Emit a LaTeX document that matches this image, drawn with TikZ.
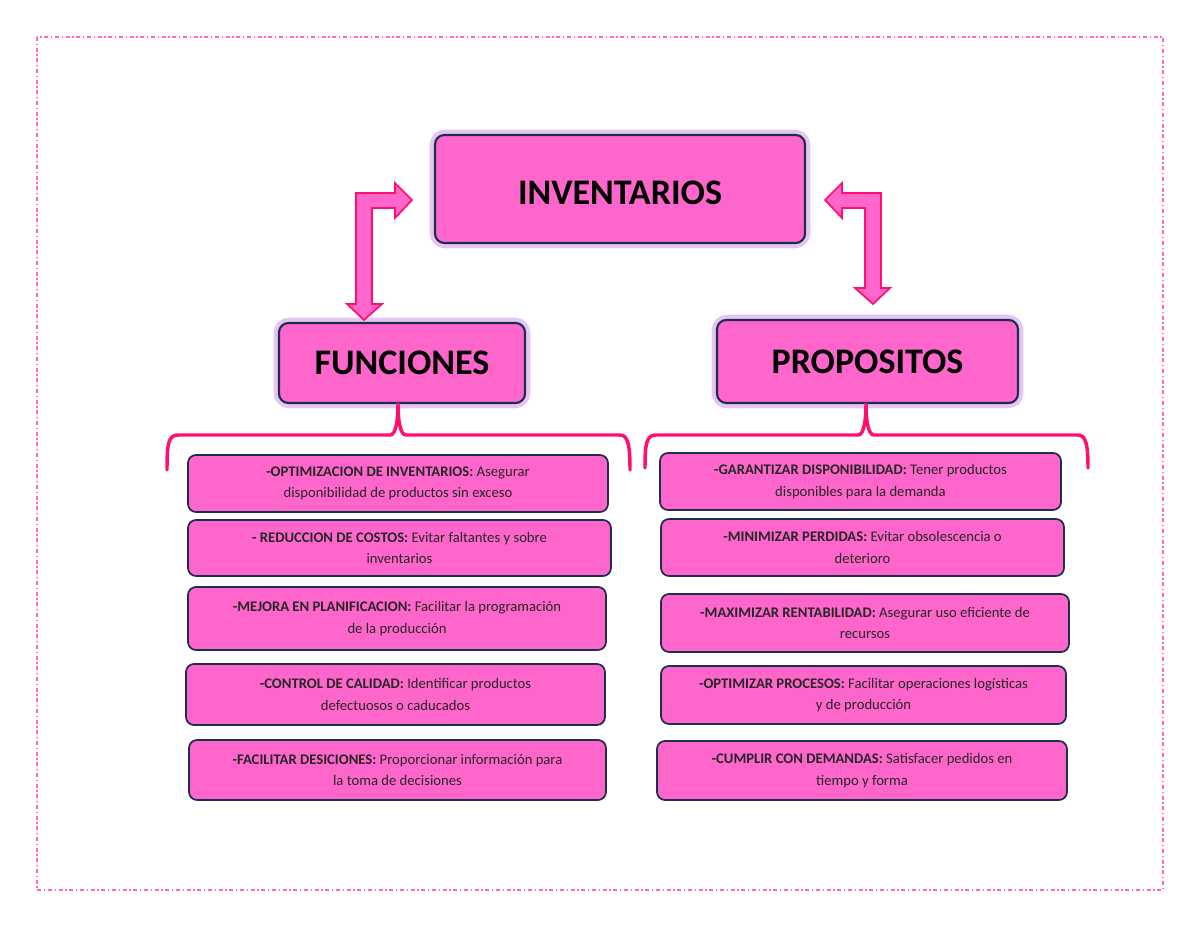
\documentclass[tikz,border=0pt]{standalone}
\usepackage{fontspec}
\setmainfont{Carlito}
\definecolor{pk}{HTML}{FF66CC}
\definecolor{nv}{HTML}{1F2D4F}
\definecolor{ar}{HTML}{FF0F6E}
\definecolor{glow}{HTML}{C080E0}
\begin{document}
\begin{tikzpicture}[x=0.75pt,y=-0.75pt,
 bx/.style={fill=pk,draw=nv,line width=1.6pt,rounded corners=7pt},
 gl/.style={draw=glow,line width=5pt,opacity=0.45,rounded corners=9pt},
 tt/.style={font=\bfseries\fontsize{27}{30}\selectfont},
 sm/.style={font=\fontsize{11}{16}\selectfont,align=center,text=black!85},
 arw/.style={fill=pk,draw=ar,line width=1.3pt,line join=miter},
 br/.style={draw=ar,line width=2.6pt,line cap=round}]
\useasboundingbox (0,0) rectangle (1200,927);
\draw[draw=pk,line width=1pt,dash dot] (37,37) rectangle (1163,890);
% top boxes
\foreach \a/\b/\c/\d/\n in {435/135/805/243/inv,279/323/525/403/fun,717/320/1018/403/pro}{
 \draw[gl] (\a-2,\b-2) rectangle (\c+2,\d+2);
 \draw[bx] (\a,\b) rectangle (\c,\d);
 \coordinate (\n) at ({(\a+\c)/2},{(\b+\d)/2});}
\node[tt] at ([yshift=-3pt]inv) {INVENTARIOS};
\node[tt] at (fun) {FUNCIONES};
\node[tt] at (pro) {PROPOSITOS};
% arrows
\draw[arw] (356,193)--(395,193)--(395,183)--(412,200)--(395,218)--(395,208)--(372,208)--(372,304)--(382,304)--(364,320)--(347,304)--(356,304)--cycle;
\draw[arw] (881,193)--(842,193)--(842,183)--(825,200)--(842,218)--(842,208)--(865,208)--(865,288)--(855,288)--(873,304)--(890,288)--(881,288)--cycle;
% braces
\draw[br] (167,470)..controls (167,445) and (168,435)..(178,435)--(390,435)..controls (396,435) and (398,420)..(398,403)..controls (398,420) and (400,435)..(406,435)--(620,435)..controls (628,435) and (630,445)..(630,470);
\draw[br] (645,468)..controls (645,445) and (646,435)..(656,435)--(858,435)..controls (864,435) and (866,420)..(866,403)..controls (866,420) and (868,435)..(874,435)--(1078,435)..controls (1086,435) and (1088,445)..(1088,468);
% small boxes
\foreach \a/\b/\c/\d/\n/\t in {
188/455/608/512/f1/{\textbf{-OPTIMIZACION DE INVENTARIOS:} Asegurar\\disponibilidad de productos sin exceso},
188/520/611/576/f2/{\textbf{- REDUCCION DE COSTOS:} Evitar faltantes y sobre\\inventarios},
188/587/606/650/f3/{\textbf{-MEJORA EN PLANIFICACION:} Facilitar la programación\\de la producción},
186/664/605/725/f4/{\textbf{-CONTROL DE CALIDAD:} Identificar productos\\defectuosos o caducados},
189/740/606/800/f5/{\textbf{-FACILITAR DESICIONES:} Proporcionar información para\\la toma de decisiones},
660/453/1061/510/p1/{\textbf{-GARANTIZAR DISPONIBILIDAD:} Tener productos\\disponibles para la demanda},
661/519/1064/576/p2/{\textbf{-MINIMIZAR PERDIDAS:} Evitar obsolescencia o\\deterioro},
661/594/1069/652/p3/{\textbf{-MAXIMIZAR RENTABILIDAD:} Asegurar uso eficiente de\\recursos},
661/666/1066/724/p4/{\textbf{-OPTIMIZAR PROCESOS:} Facilitar operaciones logísticas\\y de producción},
657/741/1067/800/p5/{\textbf{-CUMPLIR CON DEMANDAS:} Satisfacer pedidos en\\tiempo y forma}}{
 \draw[bx,line width=1.3pt,rounded corners=6pt] (\a,\b) rectangle (\c,\d);
 \node[sm] (\n) at ({(\a+\c)/2},{(\b+\d)/2}) {\t};}
\end{tikzpicture}
\end{document}
